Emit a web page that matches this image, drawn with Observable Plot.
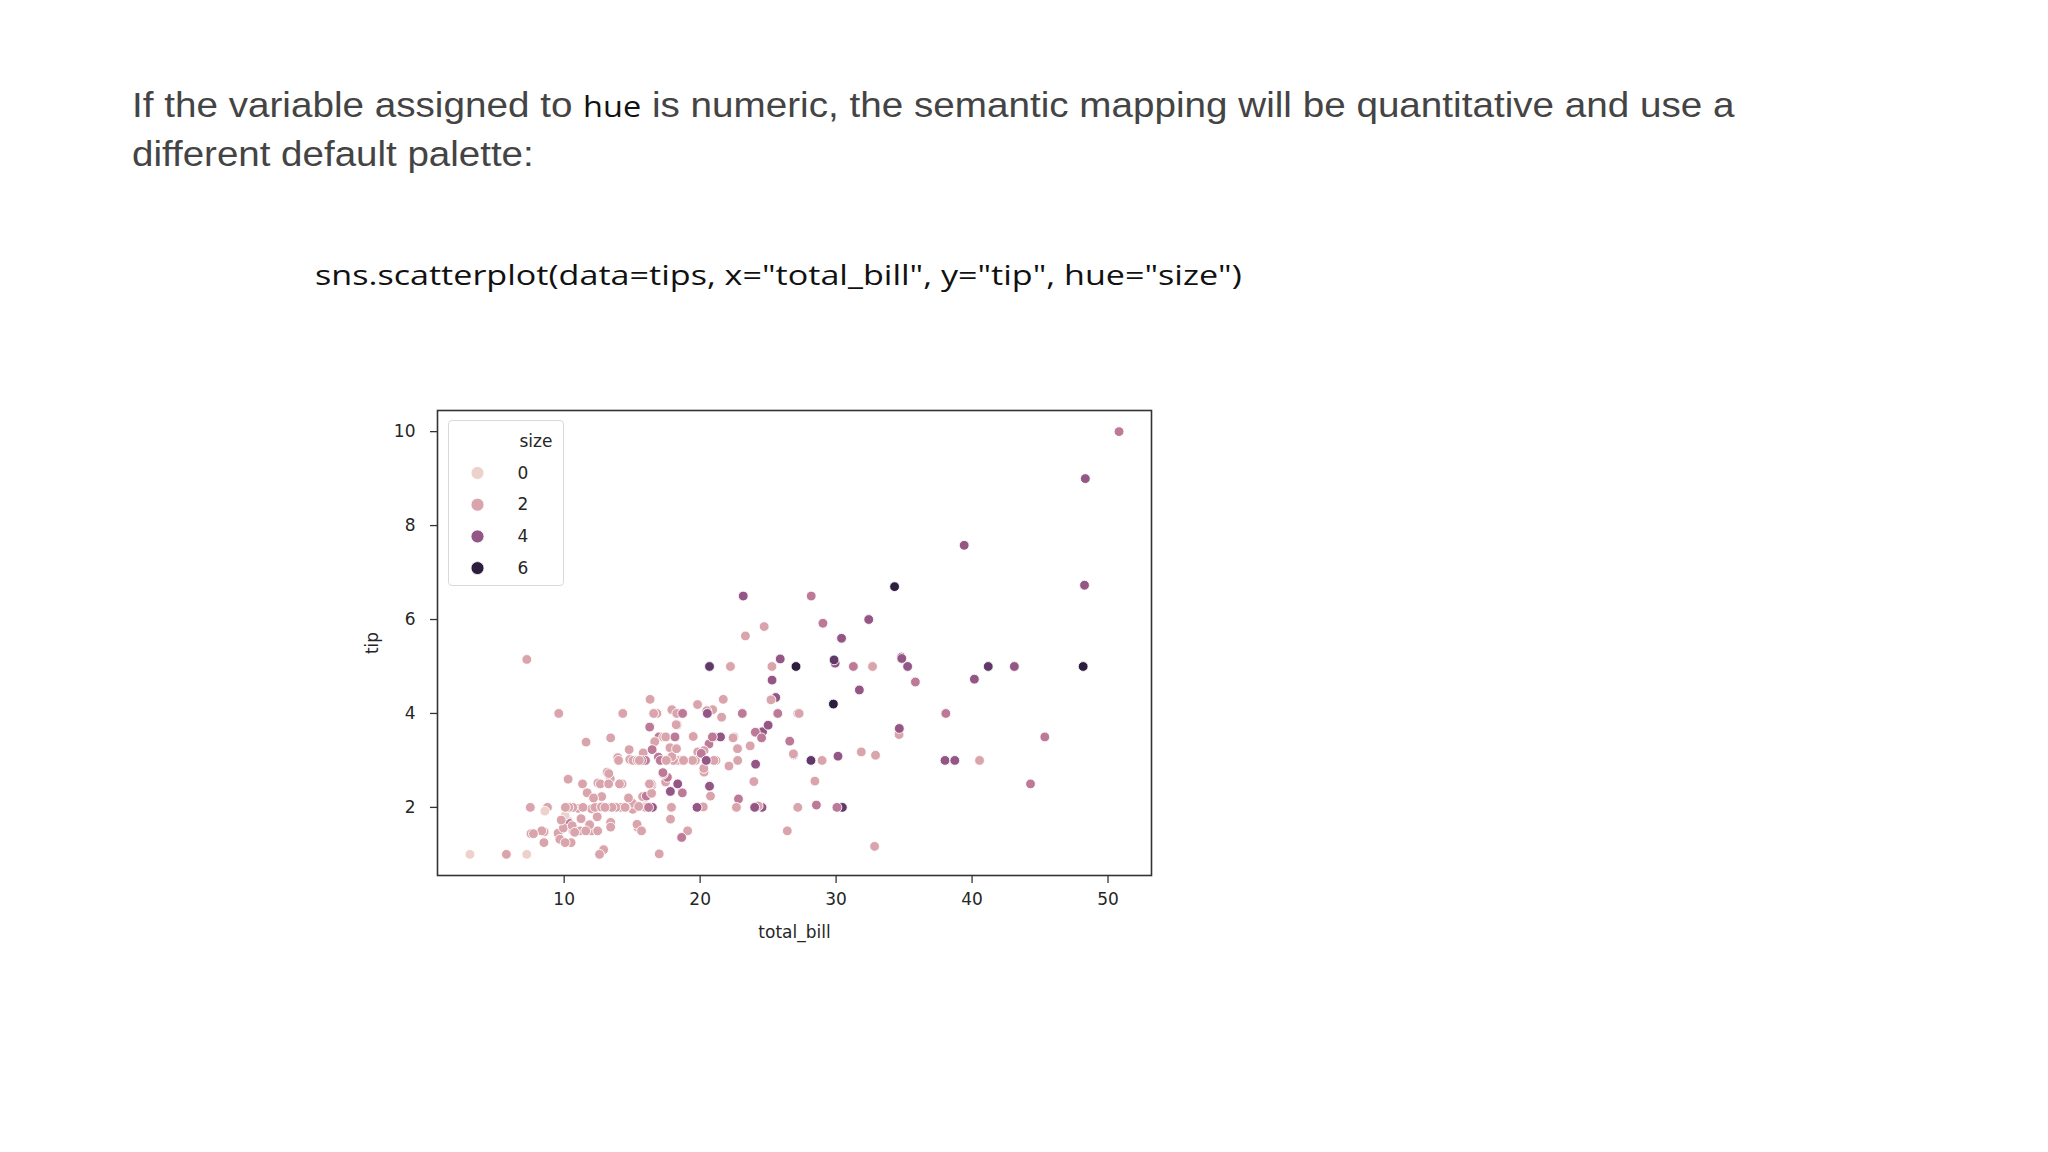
<!DOCTYPE html>
<html>
<head>
<meta charset="utf-8">
<script src="https://cdn.jsdelivr.net/npm/d3@7"></script>
<script src="https://cdn.jsdelivr.net/npm/@observablehq/plot@0.6"></script>
<style>
  html, body { margin: 0; padding: 0; background: #fff; }
  #page { position: relative; width: 2048px; height: 1152px; overflow: hidden; background: #fff; }
  #header { position: absolute; left: 0; top: 0; }
  #chart { position: absolute; left: 346px; top: 390px; }
  #legend { position: absolute; left: 448px; top: 420px; width: 116px; height: 166px;
            box-sizing: border-box; border: 1px solid #d9d9d9; border-radius: 4px;
            background: rgba(255,255,255,0.85); }
</style>
</head>
<body>
<div id="page">
  <svg id="header" width="2048" height="320"></svg>
  <div id="chart"></div>
  <div id="legend"></div>
</div>
<script>
// ---- Text ----
const introLine1 = ["If the variable assigned to ", "hue", " is numeric, the semantic mapping will be quantitative and use a"];
const introLine2 = "different default palette:";
const codeLine = 'sns.scatterplot(data=tips, x="total_bill", y="tip", hue="size")';
const xLabel = "total_bill";
const yLabel = "tip";
const legendTitle = "size";

// ---- Tick values ----
const xTicks = [10, 20, 30, 40, 50];
const yTicks = [2, 4, 6, 8, 10];
const legendValues = [0, 2, 4, 6];

// ---- Data (tips: total_bill, tip, size) ----
const totalBill = [
16.99,10.34,21.01,23.68,24.59,25.29,8.77,26.88,15.04,14.78,
10.27,35.26,15.42,18.43,14.83,21.58,10.33,16.29,16.97,20.65,
17.92,20.29,15.77,39.42,19.82,17.81,13.37,12.69,21.7,19.65,
9.55,18.35,15.06,20.69,17.78,24.06,16.31,16.93,18.69,31.27,
16.04,17.46,13.94,9.68,30.4,18.29,22.23,32.4,28.55,18.04,
12.54,10.29,34.81,9.94,25.56,19.49,38.01,26.41,11.24,48.27,
20.29,13.81,11.02,18.29,17.59,20.08,16.45,3.07,20.23,15.01,
12.02,17.07,26.86,25.28,14.73,10.51,17.92,27.2,22.76,17.29,
19.44,16.66,10.07,32.68,15.98,34.83,13.03,18.28,24.71,21.16,
28.97,22.49,5.75,16.32,22.75,40.17,27.28,12.03,21.01,12.46,
11.35,15.38,44.3,22.42,20.92,15.36,20.49,25.21,18.24,14.31,
14.0,7.25,38.07,23.95,25.71,17.31,29.93,10.65,12.43,24.08,
11.69,13.42,14.26,15.95,12.48,29.8,8.52,14.52,11.38,22.82,
19.08,20.27,11.17,12.26,18.26,8.51,10.33,14.15,16.0,13.16,
17.47,34.3,41.19,27.05,16.43,8.35,18.64,11.87,9.78,7.51,
14.07,13.13,17.26,24.55,19.77,29.85,48.17,25.0,13.39,16.49,
21.5,12.66,16.21,13.81,17.51,24.52,20.76,31.71,10.59,10.63,
50.81,15.81,7.25,31.85,16.82,32.9,17.89,14.48,9.6,34.63,
34.65,23.33,45.35,23.17,40.55,20.69,20.9,30.46,18.15,23.1,
15.69,19.81,28.44,15.48,16.58,7.56,10.34,43.11,13.0,13.51,
18.71,12.74,13.0,16.4,20.53,16.47,26.59,38.73,24.27,12.76,
30.06,25.89,48.33,13.27,28.17,12.9,28.15,11.59,7.74,30.14,
12.16,13.42,8.58,15.98,13.42,16.27,10.09,20.45,13.28,22.12,
24.01,15.69,11.61,10.77,15.53,10.07,12.6,32.83,35.83,29.03,
27.18,22.67,17.82,18.78
];
const tip = [
1.01,1.66,3.5,3.31,3.61,4.71,2.0,3.12,1.96,3.23,
1.71,5.0,1.57,3.0,3.02,3.92,1.67,3.71,3.5,3.35,
4.08,2.75,2.23,7.58,3.18,2.34,2.0,2.0,4.3,3.0,
1.45,2.5,3.0,2.45,3.27,3.6,2.0,3.07,2.31,5.0,
2.24,2.54,3.06,1.32,5.6,3.0,5.0,6.0,2.05,3.0,
2.5,2.6,5.2,1.56,4.34,3.51,3.0,1.5,1.76,6.73,
3.21,2.0,1.98,3.76,2.64,3.15,2.47,1.0,2.01,2.09,
1.97,3.0,3.14,5.0,2.2,1.25,3.08,4.0,3.0,2.71,
3.0,3.4,1.83,5.0,2.03,5.17,2.0,4.0,5.85,3.0,
3.0,3.5,1.0,4.3,3.25,4.73,4.0,1.5,3.0,1.5,
2.5,3.0,2.5,3.48,4.08,1.64,4.06,4.29,3.76,4.0,
3.0,1.0,4.0,2.55,4.0,3.5,5.07,1.5,1.8,2.92,
2.31,1.68,2.5,2.0,2.52,4.2,1.48,2.0,2.0,2.18,
1.5,2.83,1.5,2.0,3.25,1.25,2.0,2.0,2.0,2.75,
3.5,6.7,5.0,5.0,2.3,1.5,1.36,1.63,1.73,2.0,
2.5,2.0,2.74,2.0,2.0,5.14,5.0,3.75,2.61,2.0,
3.5,2.5,2.0,2.0,3.0,3.48,2.24,4.5,1.61,2.0,
10.0,3.16,5.15,3.18,4.0,3.11,2.0,2.0,4.0,3.55,
3.68,5.65,3.5,6.5,3.0,5.0,3.5,2.0,3.5,4.0,
1.5,4.19,2.56,2.02,4.0,1.44,2.0,5.0,2.0,2.0,
4.0,2.01,2.0,2.5,4.0,3.23,3.41,3.0,2.03,2.23,
2.0,5.16,9.0,2.5,6.5,1.1,3.0,1.5,1.44,3.09,
2.2,3.48,1.92,3.0,1.58,2.5,2.0,3.0,2.72,2.88,
2.0,3.0,3.39,1.47,3.0,1.25,1.0,1.17,4.67,5.92,
2.0,2.0,1.75,3.0
];
const size = [
2,3,3,2,4,4,2,4,2,2,
2,4,2,4,2,2,3,3,3,3,
2,2,2,4,2,4,2,2,2,2,
2,4,2,4,2,3,3,3,3,3,
3,2,2,2,4,2,2,4,3,2,
2,2,4,2,4,2,4,2,2,4,
2,2,2,4,3,3,2,1,2,2,
2,3,2,2,2,2,2,4,2,2,
2,2,1,2,2,4,2,2,2,2,
2,2,2,2,2,4,2,2,2,2,
2,2,3,2,2,2,2,2,2,2,
2,1,3,2,3,2,4,2,2,4,
2,2,2,2,2,6,2,2,2,3,
2,2,2,2,2,2,2,2,2,2,
2,6,5,6,2,2,3,2,2,2,
2,2,3,4,4,5,6,4,2,4,
4,2,3,2,2,3,2,4,2,2,
3,2,2,2,2,2,2,2,2,2,
4,2,3,4,2,5,3,5,3,3,
2,2,2,2,2,2,2,4,2,2,
3,2,2,2,4,3,3,4,2,2,
3,4,4,2,3,2,5,2,2,4,
2,2,1,3,2,2,2,4,2,2,
4,3,2,2,2,2,2,2,3,3,
2,2,2,2
];

// ---- seaborn default "ch:" cubehelix colormap (light -> dark) ----
function cubehelix(t) {
  t = Math.max(0, Math.min(1, t));
  const start = 0, rot = 0.4, gamma = 1, hue = 0.8, light = 0.85, dark = 0.15;
  const x = light + (dark - light) * t;
  const xg = Math.pow(x, gamma);
  const a = hue * xg * (1 - xg) / 2;
  const phi = 2 * Math.PI * (start / 3 + rot * x);
  const c = Math.cos(phi), s = Math.sin(phi);
  const r = xg + a * (-0.14861 * c + 1.78277 * s);
  const g = xg + a * (-0.29227 * c - 0.90649 * s);
  const b = xg + a * (1.97294 * c);
  const f = v => Math.round(Math.max(0, Math.min(1, v)) * 255);
  return `rgb(${f(r)},${f(g)},${f(b)})`;
}

// ---- Header text (stretched horizontally like the slide) ----
const header = d3.select("#header");
function fitX(sel, x0, targetWidth) {
  const w = sel.node().getComputedTextLength();
  if (w > 0) {
    const sx = targetWidth / w;
    sel.attr("transform", `translate(${x0},0) scale(${sx},1) translate(${-x0},0)`);
  }
}
const t1 = header.append("text")
  .attr("x", 132).attr("y", 117)
  .attr("font-family", "'Liberation Sans', Arial, sans-serif")
  .attr("font-size", 34.5).attr("fill", "#444");
t1.append("tspan").text(introLine1[0]);
t1.append("tspan").attr("font-family", "'Open Sans', Lato, sans-serif").attr("font-size", 29).attr("fill", "#111").text(introLine1[1]);
t1.append("tspan").text(introLine1[2]);
fitX(t1, 132, 1603);
const t2 = header.append("text")
  .attr("x", 132).attr("y", 166)
  .attr("font-family", "'Liberation Sans', Arial, sans-serif")
  .attr("font-size", 34.5).attr("fill", "#444")
  .text(introLine2);
fitX(t2, 132, 402);
const t3 = header.append("text")
  .attr("x", 315).attr("y", 285)
  .attr("font-family", "'Open Sans', Lato, sans-serif")
  .attr("font-size", 28).attr("fill", "#111")
  .text(codeLine);
fitX(t3, 315, 927);

// ---- Chart ----
const rows = totalBill.map((b, i) => ({total_bill: b, tip: tip[i], size: size[i]}));
const padExtent = e => [e[0] - (e[1] - e[0]) * 0.05, e[1] + (e[1] - e[0]) * 0.05];

const chart = Plot.plot({
  width: 815, height: 565,
  marginLeft: 91, marginRight: 10, marginTop: 20, marginBottom: 80,
  style: {fontFamily: "'DejaVu Sans', sans-serif", fontSize: "17px", color: "#262626", background: "transparent", overflow: "visible"},
  x: {domain: padExtent(d3.extent(totalBill)), label: null},
  y: {domain: padExtent(d3.extent(tip)), label: null},
  color: {type: "linear", domain: [1, 6], interpolate: cubehelix},
  marks: [
    Plot.dot(rows, {x: "total_bill", y: "tip", fill: "size", r: 4.9, stroke: "white", strokeWidth: 0.9}),
    Plot.frame({stroke: "#333", strokeWidth: 1.6}),
    Plot.axisX({ticks: xTicks, tickSize: 8, tickPadding: 9, stroke: "#333", strokeWidth: 1.3, label: null}),
    Plot.axisY({ticks: yTicks, tickSize: 7, tickPadding: 15, stroke: "#333", strokeWidth: 1.3, label: null}),
    Plot.text([xLabel], {text: d => d, frameAnchor: "bottom", dy: 62, fill: "#262626"}),
    Plot.text([yLabel], {text: d => d, frameAnchor: "left", textAnchor: "middle", dx: -65, rotate: -90, fill: "#262626"})
  ]
});
document.getElementById("chart").appendChild(chart);

// ---- Legend ----
const colorScale = chart.scale("color");
const leg = d3.select("#legend").append("svg").attr("width", 116).attr("height", 166)
  .style("position", "absolute").style("left", "-1px").style("top", "-1px")
  .attr("font-family", "'DejaVu Sans', sans-serif").attr("font-size", 17).attr("fill", "#262626");
leg.append("text").attr("x", 88).attr("y", 27).attr("text-anchor", "middle").text(legendTitle);
const items = leg.selectAll("g.item").data(legendValues).join("g")
  .attr("transform", (d, i) => `translate(0, ${53 + i * 31.7})`);
items.append("circle").attr("cx", 29.5).attr("cy", 0).attr("r", 6.5)
  .attr("fill", d => colorScale.apply(d)).attr("stroke", "white").attr("stroke-width", 0.8);
items.append("text").attr("x", 69.5).attr("y", 5.6).text(d => String(d));
</script>
</body>
</html>
